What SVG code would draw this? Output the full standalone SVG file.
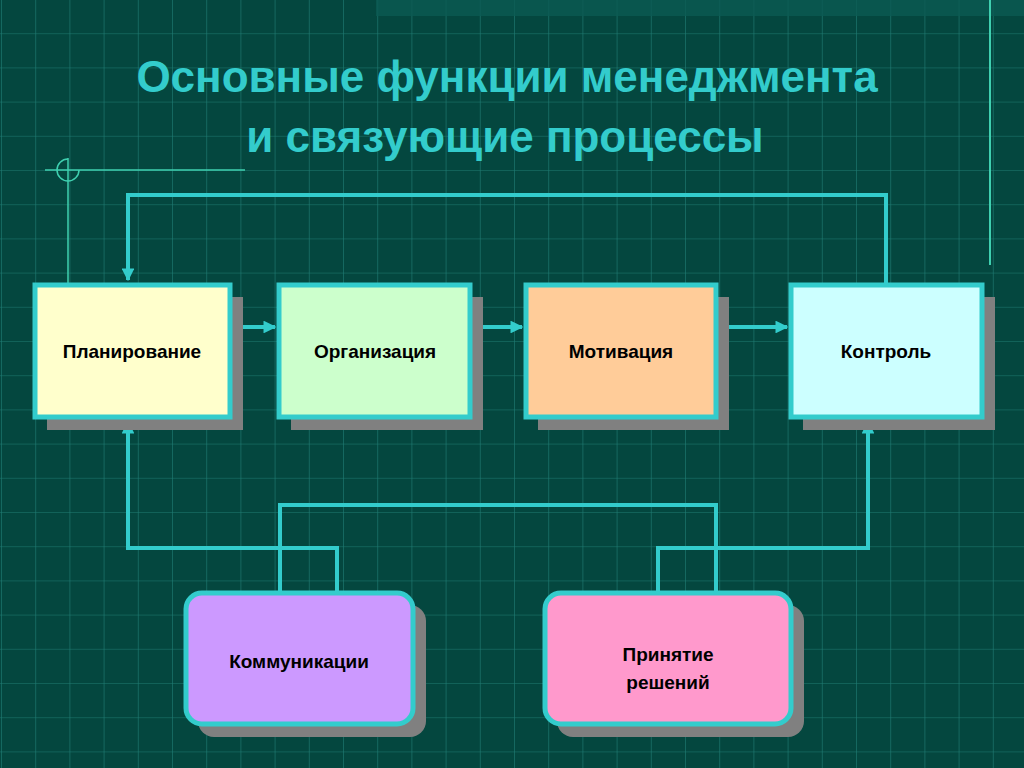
<svg xmlns="http://www.w3.org/2000/svg" width="1024" height="768" viewBox="0 0 1024 768">
<defs>
<pattern id="g" x="1" y="-1" width="34.2" height="34.2" patternUnits="userSpaceOnUse">
<path d="M0 0H34.2M0 0V34.2" stroke="#1f7d74" stroke-width="1.2" fill="none"/>
</pattern>
<marker id="a" viewBox="0 0 10 10" refX="9" refY="5" markerWidth="3.2" markerHeight="3.2" orient="auto"><path d="M0 0L10 5L0 10z" fill="#33cccc"/></marker>
<style>
.b{stroke:#33cccc;stroke-width:5}
.s{fill:#808080}
.t{font-family:"Liberation Sans",Arial,sans-serif;font-weight:bold;font-size:19px;fill:#000;text-anchor:middle}
.c{stroke:#33cccc;stroke-width:4;fill:none}
</style>
</defs>
<rect width="1024" height="768" fill="#04473f"/>
<rect width="1024" height="768" fill="url(#g)"/>
<rect x="376" y="0" width="648" height="16" fill="#0b5a52" opacity="0.8"/>
<line x1="990" y1="0" x2="990" y2="265" stroke="#3fd0b0" stroke-width="2"/>
<g stroke="#3fd0b0" stroke-width="1.5" fill="none">
<line x1="45" y1="170" x2="245" y2="170"/>
<line x1="68" y1="158" x2="68" y2="283"/>
<path d="M68 159A11 11 0 1 0 79 170"/>
</g>
<text x="507" y="92" font-family="Liberation Sans,Arial,sans-serif" font-weight="bold" font-size="44" fill="#33cccc" text-anchor="middle">Основные функции менеджмента</text>
<text x="505" y="152" font-family="Liberation Sans,Arial,sans-serif" font-weight="bold" font-size="44" fill="#33cccc" text-anchor="middle">и связующие процессы</text>
<g id="connectors">
<path class="c" d="M886 285V195H128V280" marker-end="url(#a)"/>
<path class="c" d="M232 327H275" marker-end="url(#a)"/>
<path class="c" d="M472 327H522" marker-end="url(#a)"/>
<path class="c" d="M718 327H787" marker-end="url(#a)"/>
<path class="c" d="M337 593V548H128V422" marker-end="url(#a)"/>
<path class="c" d="M280 593V505H716V593"/>
<path class="c" d="M658 593V548H868V422" marker-end="url(#a)"/>
</g>
<g id="n1"><rect class="s" x="47" y="297" width="196" height="133"/><rect class="b" x="35" y="285" width="195" height="132" fill="#ffffcc"/><text class="t" x="132" y="358">Планирование</text></g>
<g id="n2"><rect class="s" x="291" y="297" width="192" height="133"/><rect class="b" x="279" y="285" width="191" height="132" fill="#ccffcc"/><text class="t" x="375" y="358">Организация</text></g>
<g id="n3"><rect class="s" x="538" y="297" width="191" height="133"/><rect class="b" x="526" y="285" width="190" height="132" fill="#ffcc99"/><text class="t" x="621" y="358">Мотивация</text></g>
<g id="n4"><rect class="s" x="803" y="297" width="192" height="133"/><rect class="b" x="791" y="285" width="191" height="132" fill="#ccffff"/><text class="t" x="886" y="358">Контроль</text></g>
<g id="n5"><rect class="s" x="198" y="605" width="228" height="132" rx="16"/><rect class="b" x="186" y="593" width="227" height="131" rx="16" fill="#cc99ff"/><text class="t" x="299" y="668">Коммуникации</text></g>
<g id="n6"><rect class="s" x="557" y="605" width="247" height="132" rx="16"/><rect class="b" x="545" y="593" width="246" height="131" rx="16" fill="#ff99cc"/><text class="t" x="668" y="661">Принятие</text><text class="t" x="668" y="689">решений</text></g>
</svg>
